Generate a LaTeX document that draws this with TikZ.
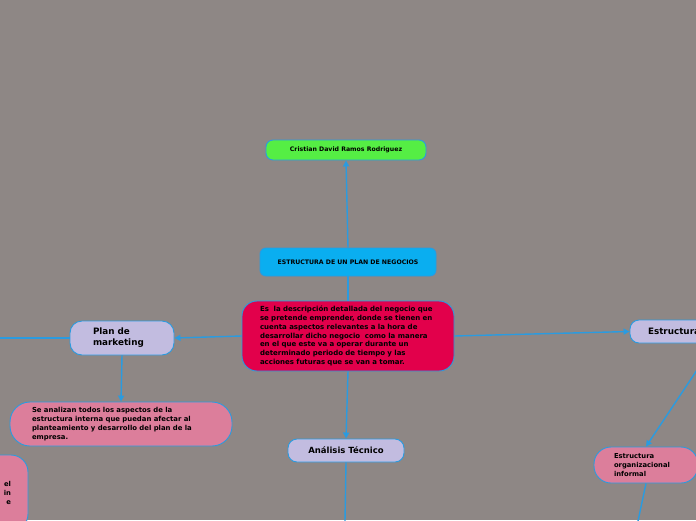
\documentclass[tikz,border=0pt]{standalone}
\usepackage{fontspec}
\setmainfont{DejaVu Sans}
\usetikzlibrary{arrows.meta}
\definecolor{bg}{HTML}{8E8785}
\definecolor{edge}{HTML}{2A9BE0}
\definecolor{lav}{HTML}{C2BCE0}
\definecolor{pinkk}{HTML}{DC7E9B}
\definecolor{crim}{HTML}{E2004B}
\definecolor{grn}{HTML}{55EE44}
\definecolor{cyn}{HTML}{0AAEF0}
\tikzset{
  box/.style={draw=edge,line width=0.9pt,inner sep=0pt,align=left},
  conn/.style={draw=edge,line width=1.4pt},
  arr/.style={conn,-{Triangle[length=6pt,width=6pt]}}
}
\newcommand{\bff}[2]{\bfseries\fontsize{#1}{#2}\selectfont}
\begin{document}
\begin{tikzpicture}[x=1pt,y=-1pt]
\useasboundingbox (0,0) rectangle (696,520);
\clip (0,0) rectangle (696,520);
\fill[bg] (0,0) rectangle (696,520);
\node[box,fill=grn,rounded corners=7pt,minimum width=160pt,minimum height=20pt,font=\bff{6.2}{7}] (cr) at (346,150) {Cristian David Ramos Rodriguez};
\node[box,fill=cyn,rounded corners=6pt,minimum width=176pt,minimum height=28pt,font=\bff{6.2}{7}] (ti) at (348,262) {ESTRUCTURA DE UN PLAN DE NEGOCIOS};
\node[box,fill=crim,rounded corners=15pt,minimum width=212pt,minimum height=70pt,text width=176pt,font=\bff{7}{8.9}] (de) at (348,336) {Es \ la descripción detallada del negocio que\\se pretende emprender, donde se tienen en\\cuenta aspectos relevantes a la hora de\\desarrollar dicho negocio \ como la manera\\en el que este va a operar durante un\\determinado periodo de tiempo y las\\acciones futuras que se van a tomar.};
\node[box,fill=lav,rounded corners=12pt,minimum width=104pt,minimum height=34pt,text width=58pt,font=\bff{8.8}{11}] (pm) at (122,338) {Plan de\\marketing};
\node[box,fill=pinkk,rounded corners=20pt,minimum width=222pt,minimum height=44pt,text width=178pt,font=\bff{6.9}{8.9}] (sa) at (121,424) {Se analizan todos los aspectos de la\\estructura interna que puedan afectar al\\planteamiento y desarrollo del plan de la\\empresa.};
\node[box,fill=lav,rounded corners=9pt,minimum width=116pt,minimum height=23pt,font=\bff{8.5}{9}] (at) at (346,450.5) {Análisis Técnico};
\node[box,fill=lav,rounded corners=9pt,minimum width=100pt,minimum height=23pt,text width=64pt,font=\bff{8.8}{9}] (es) at (680,331.5) {Estructura};
\node[box,fill=pinkk,rounded corners=17pt,minimum width=104pt,minimum height=36pt,text width=64pt,font=\bff{6.8}{8.6}] (ei) at (646,465) {Estructura\\organizacional\\informal};
\node[box,fill=pinkk,rounded corners=17pt,minimum width=88pt,minimum height=76pt,text width=54pt,align=right,font=\bff{6.8}{8.6}] (lp) at (-16,493) {el\\in\\e};
\coordinate (lft) at (0,338);
\coordinate (rtop) at (697,370);
\coordinate (atb) at (345,521);
\coordinate (eib) at (638,521);
\draw[conn] (de.north) -- (ti.south);
\draw[arr] (ti.north) -- (cr.south);
\draw[arr] (de.west) -- (pm.east);
\draw[conn] (pm.west) -- (lft);
\draw[arr] (pm.south) -- (sa.north);
\draw[arr] (de.south) -- (at.north);
\draw[arr] (de.east) -- (es.west);
\draw[arr] (rtop) -- (ei.north);
\draw[conn] (at.south) -- (atb);
\draw[conn] (ei.south) -- (eib);
\end{tikzpicture}
\end{document}
